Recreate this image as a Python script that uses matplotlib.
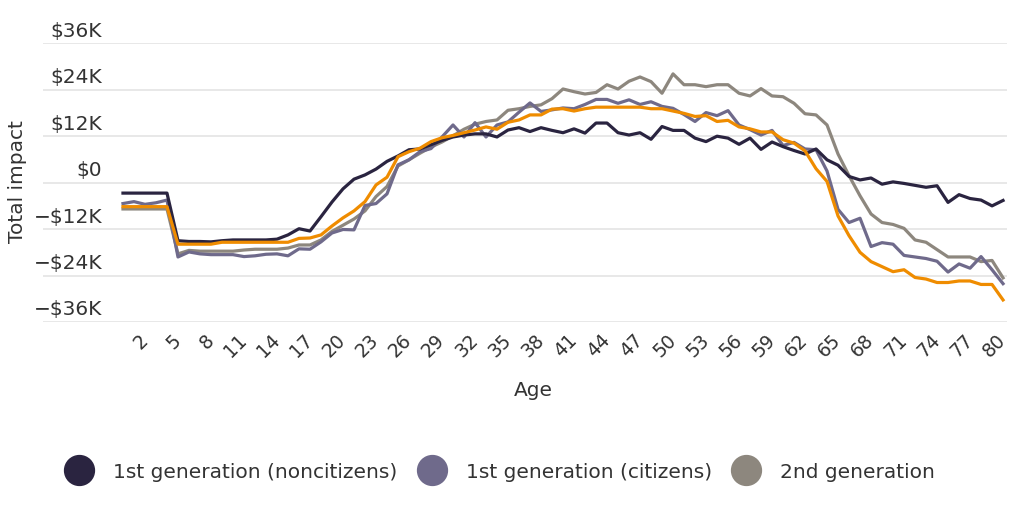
import matplotlib
matplotlib.use("Agg")
import matplotlib.pyplot as plt
from matplotlib.lines import Line2D

plt.rcParams['font.family'] = ['DejaVu Sans']

ages = list(range(0, 81))

# total fiscal impact, thousands of dollars
noncitizens = [-2.7, -2.7, -2.7, -2.7, -2.7, -15.0, -15.2, -15.2, -15.3, -15.0,
               -14.8, -14.8, -14.8, -14.8, -14.6, -13.5, -11.9, -12.5, -8.8, -5.0,
               -1.6, 0.9, 2.0, 3.5, 5.5, 6.9, 8.5, 8.7, 9.8, 10.9,
               11.8, 12.3, 12.6, 12.6, 11.8, 13.6, 14.2, 13.2, 14.2, 13.5,
               12.9, 13.9, 12.8, 15.4, 15.4, 12.9, 12.3, 12.9, 11.2, 14.5,
               13.5, 13.5, 11.5, 10.6, 12.0, 11.5, 9.9, 11.5, 8.6, 10.5,
               9.3, 8.3, 7.4, 8.7, 5.9, 4.5, 1.6, 0.7, 1.2, -0.4,
               0.2, -0.2, -0.7, -1.2, -0.8, -5.1, -3.1, -4.1, -4.5, -6.0,
               -4.6]
citizens = [-5.4, -4.9, -5.6, -5.2, -4.5, -19.2, -17.9, -18.4, -18.6, -18.6,
            -18.6, -19.1, -18.9, -18.5, -18.4, -18.9, -17.1, -17.2, -15.3, -13.0,
            -12.1, -12.2, -5.9, -5.4, -2.9, 4.6, 5.9, 8.0, 8.8, 11.8,
            14.9, 11.8, 15.5, 11.8, 14.9, 15.7, 18.2, 20.6, 18.4, 18.8,
            19.3, 19.1, 20.2, 21.5, 21.5, 20.5, 21.4, 20.2, 20.9, 19.7,
            19.2, 17.6, 15.8, 18.1, 17.3, 18.6, 14.9, 13.7, 12.3, 13.5,
            9.6, 10.4, 8.7, 8.5, 3.0, -6.9, -10.3, -9.2, -16.5, -15.5,
            -15.9, -18.8, -19.2, -19.6, -20.3, -23.1, -21.0, -22.1, -19.1, -22.5,
            -26.1]
second_gen = [-6.8, -6.8, -6.8, -6.8, -6.8, -18.4, -17.5, -17.7, -17.7, -17.7,
              -17.7, -17.4, -17.2, -17.2, -17.2, -16.9, -16.1, -16.1, -14.8, -12.6,
              -11.0, -9.4, -7.3, -3.6, -1.0, 4.3, 5.9, 7.6, 9.2, 10.5,
              12.1, 13.8, 15.1, 15.8, 16.2, 18.7, 19.1, 19.7, 20.1, 21.7,
              24.2, 23.5, 22.9, 23.3, 25.3, 24.2, 26.2, 27.3, 26.1, 23.1,
              28.1, 25.3, 25.3, 24.8, 25.3, 25.3, 23.1, 22.4, 24.3, 22.4,
              22.2, 20.5, 17.8, 17.5, 14.9, 7.4, 1.8, -3.4, -8.1, -10.3,
              -10.8, -11.8, -14.8, -15.4, -17.3, -19.2, -19.2, -19.2, -20.4, -20.1,
              -24.6]
all_groups = [-6.2, -6.2, -6.2, -6.2, -6.2, -15.9, -15.9, -15.9, -15.9, -15.4,
              -15.4, -15.4, -15.4, -15.4, -15.4, -15.4, -14.4, -14.3, -13.5, -11.2,
              -9.1, -7.3, -4.9, -0.6, 1.4, 6.7, 8.0, 8.9, 10.6, 11.6,
              12.2, 12.9, 13.6, 14.4, 13.8, 15.6, 16.2, 17.5, 17.5, 19.0,
              19.1, 18.5, 19.1, 19.5, 19.5, 19.5, 19.5, 19.5, 19.1, 19.1,
              18.5, 17.9, 17.1, 17.3, 15.8, 16.1, 14.4, 13.9, 13.1, 13.1,
              11.1, 10.2, 8.2, 3.6, 0.3, -8.6, -13.7, -18.0, -20.4, -21.7,
              -23.0, -22.5, -24.5, -24.9, -25.8, -25.8, -25.4, -25.4, -26.3, -26.3,
              -30.3]

y_ticks = [36, 24, 12, 0, -12, -24, -36]
y_labels = ['$36K', '$24K', '$12K', '$0', '\u2212$12K', '\u2212$24K', '\u2212$36K']
x_ticks = list(range(2, 81, 3))

c_dark = '#2a2440'
c_purple = '#6f6a8b'
c_gray = '#8d877e'
c_orange = '#ef8c00'
txt = '#333333'

fig = plt.figure(figsize=(10.24, 5.12), dpi=100)
ax = fig.add_axes([43 / 1024, 1 - 322 / 512, 964 / 1024, 278.7 / 512])

for v in y_ticks:
    ax.axhline(v, color='#e6e6e6', lw=1.3, zorder=0)

ax.plot(ages, second_gen, color=c_gray, lw=2.3, zorder=2)
ax.plot(ages, citizens, color=c_purple, lw=2.3, zorder=3)
ax.plot(ages, noncitizens, color=c_dark, lw=2.3, zorder=4)
ax.plot(ages, all_groups, color=c_orange, lw=2.3, zorder=5)

ax.set_xlim(-7.27, 80.36)
ax.set_ylim(-36, 36)
for s in ax.spines.values():
    s.set_visible(False)

ax.set_yticks([])
for v, lab in zip(y_ticks, y_labels):
    ax.text(-1.9, v + 1.7, lab, ha='right', va='baseline', fontsize=14.5, color=txt)

ax.set_xticks(x_ticks)
ax.set_xticklabels([str(a) for a in x_ticks], rotation=45, ha='right',
                   va='center', rotation_mode='anchor', fontsize=13.5, color=txt)
ax.tick_params(axis='x', length=0, pad=11)

fig.text(533 / 1024, 1 - 390 / 512, 'Age', ha='center', va='center', fontsize=14.5, color=txt)
fig.text(18 / 1024, 1 - 182 / 512, 'Total impact', ha='center', va='center',
         rotation=90, fontsize=14.5, color=txt)

handles = [Line2D([], [], ls='', marker='o', markersize=21.5, color=c)
           for c in (c_dark, c_purple, c_gray)]
names = ['1st generation (noncitizens)', '1st generation (citizens)', '2nd generation']
fig.legend(handles, names, loc='center', bbox_to_anchor=(501 / 1024, 1 - 472 / 512),
           ncol=3, frameon=False, fontsize=14.5, labelcolor=txt,
           handletextpad=1.1, columnspacing=1.1, handlelength=1.2)

fig.savefig('out.png', dpi=100)
